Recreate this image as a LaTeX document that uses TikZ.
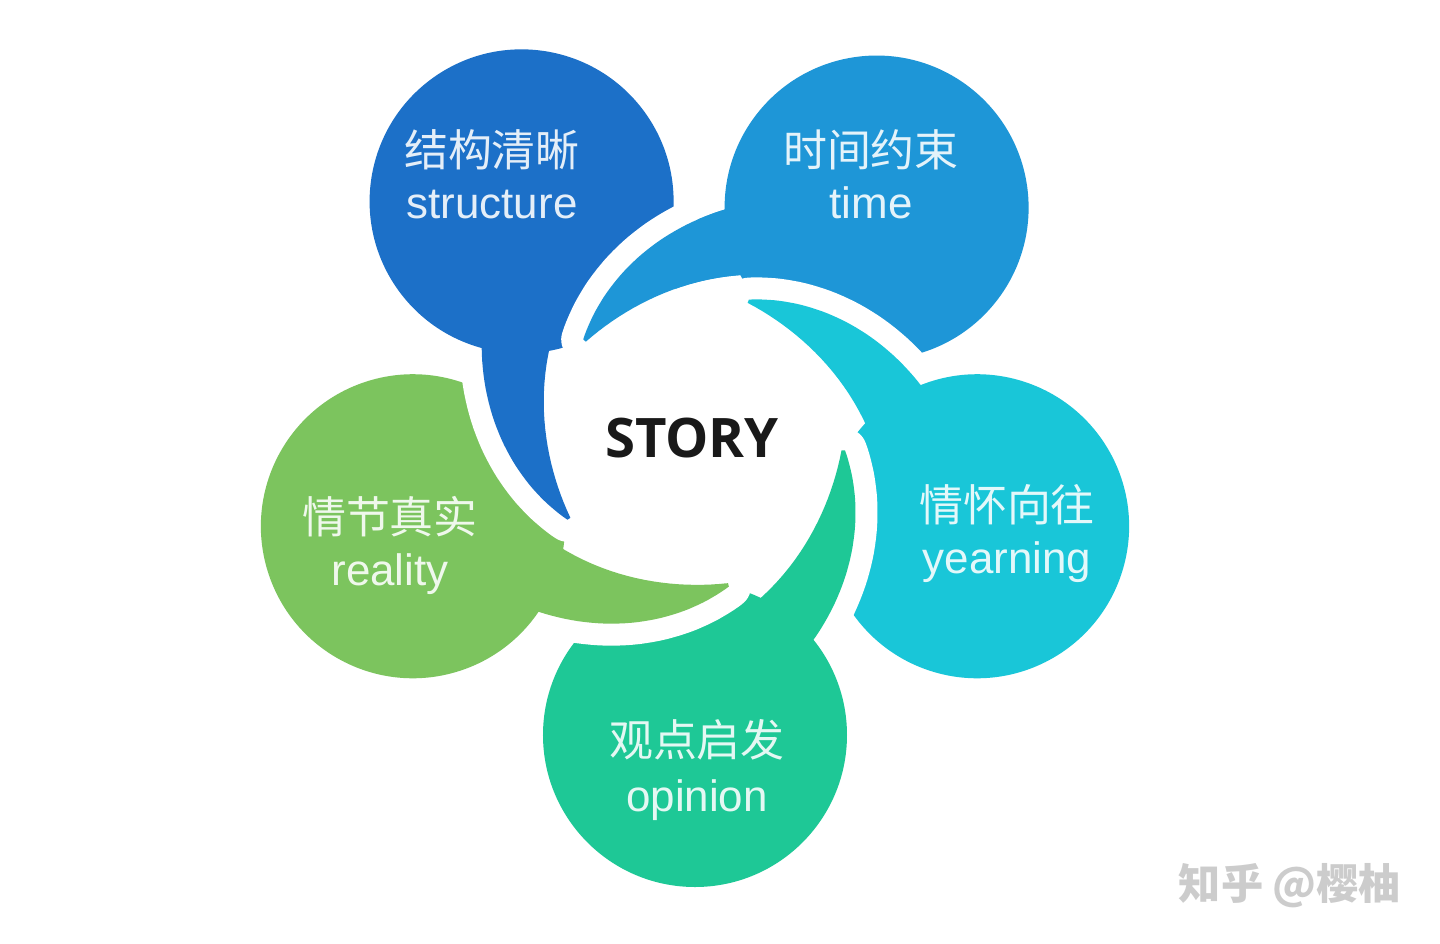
\documentclass[tikz,border=0pt]{standalone}
\usepackage{fontspec}
\setmainfont{Liberation Sans}
\newfontfamily\cjk{Noto Sans CJK SC}
\newfontfamily\storyfont{Open Sans}
\usetikzlibrary{positioning}

\definecolor{structcol}{HTML}{1C70C8}
\definecolor{timecol}{HTML}{1E96D7}
\definecolor{yearncol}{HTML}{19C6D8}
\definecolor{opincol}{HTML}{1EC896}
\definecolor{realcol}{HTML}{7CC45E}

\tikzset{
    gap/.style={draw=white, line width=0.44cm, line join=round},
    petal/.style={
        fill=#1,
        preaction={gap}
    },
    zh/.style={
        anchor=base,
        text=white!88!#1,
        font=\cjk\fontsize{12.5}{15}\selectfont
    },
    en/.style={
        anchor=base,
        text=white!88!#1,
        font=\fontsize{12.5}{15}\selectfont
    }
}

% the tail alone, then the bubble with its tail, turned to angle #1
\newcommand{\tailpath}{%
    plot[domain=20:86, samples=40] (\x:{2.938-0.02191*\x+0.0000617*\x*\x})
    -- plot[domain=86:22, samples=40] (\x:{2.0046-0.01541*\x+0.0001123*\x*\x})
    -- cycle}
\newcommand{\petal}[2]{%
    \path[petal=#2, rotate=#1]
        (4.47,0) arc[start angle=0, end angle=360, radius=1.52]
        \tailpath;}

\begin{document}
\begin{tikzpicture}
    \useasboundingbox (-6.95,-5.03) rectangle (7.45,4.40);

    \petal{52}{timecol}
    \petal{-17}{yearncol}
    \petal{-90}{opincol}
    \petal{-163}{realcol}
    \petal{126}{structcol}
    % the time tail lies over the structure bubble
    \begin{scope}
        \clip (126:2.95) circle[radius=1.77];
        \path[gap, rotate=52] \tailpath;
    \end{scope}
    \fill[timecol, rotate=52] \tailpath;

    \node[anchor=base, text=black!90, font=\storyfont\bfseries\fontsize{15.5}{18}\selectfont] (story) at (-0.03,-0.17) {STORY};

    \node[zh=structcol] (structzh) at (-2.03,2.74) {结构清晰};
    \node[en=structcol, below=0.52 of structzh.base, anchor=base] (structen) {structure};

    \node[zh=timecol] (timezh) at (1.76,2.74) {时间约束};
    \node[en=timecol, below=0.52 of timezh.base, anchor=base] (timeen) {time};

    \node[zh=yearncol] (yearnzh) at (3.12,-0.81) {情怀向往};
    \node[en=yearncol, below=0.52 of yearnzh.base, anchor=base] (yearnen) {yearning};

    \node[zh=opincol] (opinzh) at (0.02,-3.16) {观点启发};
    \node[en=opincol, below=0.55 of opinzh.base, anchor=base] (opinen) {opinion};

    \node[zh=realcol] (realzh) at (-3.05,-0.93) {情节真实};
    \node[en=realcol, below=0.52 of realzh.base, anchor=base] (realen) {reality};

    \node[anchor=base, text=black!20, font=\cjk\bfseries\fontsize{12}{14}\selectfont] (mark) at (5.95,-4.59) {知乎 @樱柚};
\end{tikzpicture}
\end{document}
